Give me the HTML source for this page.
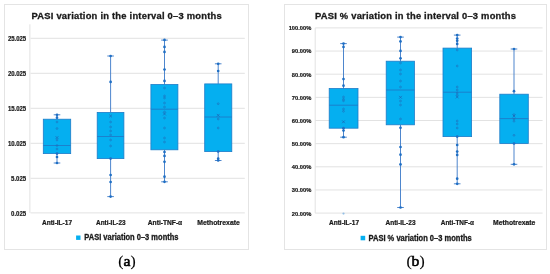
<!DOCTYPE html>
<html><head><meta charset="utf-8"><style>
html,body{margin:0;padding:0;background:#fff;width:550px;height:274px;overflow:hidden;}
svg{display:block;will-change:transform;}
</style></head><body>
<svg width="550" height="274" viewBox="0 0 550 274">
<rect width="550" height="274" fill="#fff"/>
<rect x="4.5" y="4.5" width="244" height="245" fill="none" stroke="#E4E4E4" stroke-width="1"/>
<rect x="284.5" y="4.5" width="262" height="245" fill="none" stroke="#E4E4E4" stroke-width="1"/>
<line x1="30.5" y1="38.3" x2="244.8" y2="38.3" stroke="#E2E2E2" stroke-width="1"/>
<line x1="30.5" y1="73.3" x2="244.8" y2="73.3" stroke="#E2E2E2" stroke-width="1"/>
<line x1="30.5" y1="108.3" x2="244.8" y2="108.3" stroke="#E2E2E2" stroke-width="1"/>
<line x1="30.5" y1="143.3" x2="244.8" y2="143.3" stroke="#E2E2E2" stroke-width="1"/>
<line x1="30.5" y1="178.3" x2="244.8" y2="178.3" stroke="#E2E2E2" stroke-width="1"/>
<line x1="30.5" y1="212.9" x2="244.8" y2="212.9" stroke="#E2E2E2" stroke-width="1"/>
<line x1="29.9" y1="24.3" x2="29.9" y2="212.9" stroke="#E2E2E2" stroke-width="1"/>
<text x="26.2" y="40.949999999999996" font-family="&quot;Liberation Sans&quot;, sans-serif" font-size="6.3" font-weight="bold" fill="#1a1a1a" text-anchor="end" textLength="18.3" lengthAdjust="spacingAndGlyphs" stroke="#1a1a1a" stroke-width="0.2">25.025</text>
<text x="26.2" y="75.95" font-family="&quot;Liberation Sans&quot;, sans-serif" font-size="6.3" font-weight="bold" fill="#1a1a1a" text-anchor="end" textLength="18.3" lengthAdjust="spacingAndGlyphs" stroke="#1a1a1a" stroke-width="0.2">20.025</text>
<text x="26.2" y="110.95" font-family="&quot;Liberation Sans&quot;, sans-serif" font-size="6.3" font-weight="bold" fill="#1a1a1a" text-anchor="end" textLength="18.3" lengthAdjust="spacingAndGlyphs" stroke="#1a1a1a" stroke-width="0.2">15.025</text>
<text x="26.2" y="145.95000000000002" font-family="&quot;Liberation Sans&quot;, sans-serif" font-size="6.3" font-weight="bold" fill="#1a1a1a" text-anchor="end" textLength="18.3" lengthAdjust="spacingAndGlyphs" stroke="#1a1a1a" stroke-width="0.2">10.025</text>
<text x="26.2" y="180.95000000000002" font-family="&quot;Liberation Sans&quot;, sans-serif" font-size="6.3" font-weight="bold" fill="#1a1a1a" text-anchor="end" textLength="15.1" lengthAdjust="spacingAndGlyphs" stroke="#1a1a1a" stroke-width="0.2">5.025</text>
<text x="26.2" y="215.55" font-family="&quot;Liberation Sans&quot;, sans-serif" font-size="6.3" font-weight="bold" fill="#1a1a1a" text-anchor="end" textLength="15.1" lengthAdjust="spacingAndGlyphs" stroke="#1a1a1a" stroke-width="0.2">0.025</text>
<text x="126.6" y="18.5" font-family="&quot;Liberation Sans&quot;, sans-serif" font-size="9.4" font-weight="bold" fill="#1a1a1a" text-anchor="middle" textLength="190.2" lengthAdjust="spacing" stroke="#1a1a1a" stroke-width="0.3">PASI variation in the interval 0–3 months</text>
<line x1="57" y1="114.8" x2="57" y2="119.2" stroke="#4580CA" stroke-width="0.95"/>
<line x1="57" y1="153.6" x2="57" y2="163" stroke="#4580CA" stroke-width="0.95"/>
<line x1="53.7" y1="114.8" x2="60.3" y2="114.8" stroke="#4580CA" stroke-width="0.95"/>
<line x1="53.7" y1="163" x2="60.3" y2="163" stroke="#4580CA" stroke-width="0.95"/>
<rect x="43.3" y="119.2" width="27.400000000000006" height="34.39999999999999" fill="#05AFF0" stroke="#1E7CC8" stroke-width="0.8"/>
<line x1="43.3" y1="145.5" x2="70.7" y2="145.5" stroke="#1E7CC8" stroke-width="0.9"/>
<circle cx="57" cy="114.8" r="1.35" fill="#1F6FC4"/>
<circle cx="57" cy="117.7" r="1.35" fill="#1F6FC4"/>
<circle cx="57" cy="122" r="0.9" fill="none" stroke="#2366B4" stroke-width="0.55"/>
<circle cx="57" cy="128.5" r="0.9" fill="none" stroke="#2366B4" stroke-width="0.55"/>
<circle cx="57" cy="140" r="0.9" fill="none" stroke="#2366B4" stroke-width="0.55"/>
<circle cx="57" cy="145.5" r="0.9" fill="none" stroke="#2366B4" stroke-width="0.55"/>
<circle cx="57" cy="149" r="0.9" fill="none" stroke="#2366B4" stroke-width="0.55"/>
<circle cx="57" cy="153.6" r="1.35" fill="#1F6FC4"/>
<circle cx="57" cy="157" r="1.35" fill="#1F6FC4"/>
<circle cx="57" cy="163" r="1.35" fill="#1F6FC4"/>
<path d="M55.6 136.2L58.4 139.0M55.6 139.0L58.4 136.2" stroke="#1F5FAE" stroke-width="0.65"/>
<line x1="110.6" y1="56" x2="110.6" y2="112.4" stroke="#4580CA" stroke-width="0.95"/>
<line x1="110.6" y1="158.6" x2="110.6" y2="196.6" stroke="#4580CA" stroke-width="0.95"/>
<line x1="107.3" y1="56" x2="113.89999999999999" y2="56" stroke="#4580CA" stroke-width="0.95"/>
<line x1="107.3" y1="196.6" x2="113.89999999999999" y2="196.6" stroke="#4580CA" stroke-width="0.95"/>
<rect x="97.2" y="112.4" width="26.700000000000003" height="46.19999999999999" fill="#05AFF0" stroke="#1E7CC8" stroke-width="0.8"/>
<line x1="97.2" y1="136.5" x2="123.9" y2="136.5" stroke="#1E7CC8" stroke-width="0.9"/>
<circle cx="110.6" cy="56" r="1.35" fill="#1F6FC4"/>
<circle cx="110.6" cy="81.9" r="1.35" fill="#1F6FC4"/>
<circle cx="110.6" cy="122" r="0.9" fill="none" stroke="#2366B4" stroke-width="0.55"/>
<circle cx="110.6" cy="127" r="0.9" fill="none" stroke="#2366B4" stroke-width="0.55"/>
<circle cx="110.6" cy="131" r="0.9" fill="none" stroke="#2366B4" stroke-width="0.55"/>
<circle cx="110.6" cy="135" r="0.9" fill="none" stroke="#2366B4" stroke-width="0.55"/>
<circle cx="110.6" cy="140" r="0.9" fill="none" stroke="#2366B4" stroke-width="0.55"/>
<circle cx="110.6" cy="146" r="0.9" fill="none" stroke="#2366B4" stroke-width="0.55"/>
<circle cx="110.6" cy="158.6" r="1.35" fill="#1F6FC4"/>
<circle cx="110.6" cy="175" r="1.35" fill="#1F6FC4"/>
<circle cx="110.6" cy="182" r="1.35" fill="#1F6FC4"/>
<circle cx="110.6" cy="196.6" r="1.35" fill="#1F6FC4"/>
<path d="M109.19999999999999 114.6L112.0 117.4M109.19999999999999 117.4L112.0 114.6" stroke="#1F5FAE" stroke-width="0.65"/>
<line x1="164.5" y1="40.1" x2="164.5" y2="84.5" stroke="#4580CA" stroke-width="0.95"/>
<line x1="164.5" y1="149.8" x2="164.5" y2="181.8" stroke="#4580CA" stroke-width="0.95"/>
<line x1="161.2" y1="40.1" x2="167.8" y2="40.1" stroke="#4580CA" stroke-width="0.95"/>
<line x1="161.2" y1="181.8" x2="167.8" y2="181.8" stroke="#4580CA" stroke-width="0.95"/>
<rect x="150.9" y="84.5" width="27.0" height="65.30000000000001" fill="#05AFF0" stroke="#1E7CC8" stroke-width="0.8"/>
<line x1="150.9" y1="109.2" x2="177.9" y2="109.2" stroke="#1E7CC8" stroke-width="0.9"/>
<circle cx="164.5" cy="39.9" r="1.35" fill="#1F6FC4"/>
<circle cx="164.5" cy="46.9" r="1.35" fill="#1F6FC4"/>
<circle cx="164.5" cy="51.9" r="1.35" fill="#1F6FC4"/>
<circle cx="164.5" cy="69.5" r="1.35" fill="#1F6FC4"/>
<circle cx="164.5" cy="80.9" r="1.35" fill="#1F6FC4"/>
<circle cx="164.5" cy="88" r="0.9" fill="none" stroke="#2366B4" stroke-width="0.55"/>
<circle cx="164.5" cy="96" r="0.9" fill="none" stroke="#2366B4" stroke-width="0.55"/>
<circle cx="164.5" cy="98" r="0.9" fill="none" stroke="#2366B4" stroke-width="0.55"/>
<circle cx="164.5" cy="103" r="0.9" fill="none" stroke="#2366B4" stroke-width="0.55"/>
<circle cx="164.5" cy="107" r="0.9" fill="none" stroke="#2366B4" stroke-width="0.55"/>
<circle cx="164.5" cy="112" r="0.9" fill="none" stroke="#2366B4" stroke-width="0.55"/>
<circle cx="164.5" cy="118" r="0.9" fill="none" stroke="#2366B4" stroke-width="0.55"/>
<circle cx="164.5" cy="128" r="0.9" fill="none" stroke="#2366B4" stroke-width="0.55"/>
<circle cx="164.5" cy="138" r="0.9" fill="none" stroke="#2366B4" stroke-width="0.55"/>
<circle cx="164.5" cy="142" r="0.9" fill="none" stroke="#2366B4" stroke-width="0.55"/>
<circle cx="164.5" cy="152" r="1.35" fill="#1F6FC4"/>
<circle cx="164.5" cy="155.9" r="1.35" fill="#1F6FC4"/>
<circle cx="164.5" cy="161.8" r="1.35" fill="#1F6FC4"/>
<circle cx="164.5" cy="176.7" r="1.35" fill="#1F6FC4"/>
<circle cx="164.5" cy="181.8" r="1.35" fill="#1F6FC4"/>
<path d="M163.1 112.6L165.9 115.4M163.1 115.4L165.9 112.6" stroke="#1F5FAE" stroke-width="0.65"/>
<line x1="218.2" y1="63.8" x2="218.2" y2="83.9" stroke="#4580CA" stroke-width="0.95"/>
<line x1="218.2" y1="151.6" x2="218.2" y2="160.5" stroke="#4580CA" stroke-width="0.95"/>
<line x1="214.89999999999998" y1="63.8" x2="221.5" y2="63.8" stroke="#4580CA" stroke-width="0.95"/>
<line x1="214.89999999999998" y1="160.5" x2="221.5" y2="160.5" stroke="#4580CA" stroke-width="0.95"/>
<rect x="204.7" y="83.9" width="27.100000000000023" height="67.69999999999999" fill="#05AFF0" stroke="#1E7CC8" stroke-width="0.8"/>
<line x1="204.7" y1="117" x2="231.8" y2="117" stroke="#1E7CC8" stroke-width="0.9"/>
<circle cx="218.2" cy="63.8" r="1.35" fill="#1F6FC4"/>
<circle cx="218.2" cy="71" r="1.35" fill="#1F6FC4"/>
<circle cx="218.2" cy="103.7" r="0.9" fill="none" stroke="#2366B4" stroke-width="0.55"/>
<circle cx="218.2" cy="119" r="0.9" fill="none" stroke="#2366B4" stroke-width="0.55"/>
<circle cx="218.2" cy="128" r="0.9" fill="none" stroke="#2366B4" stroke-width="0.55"/>
<circle cx="218.2" cy="151.5" r="1.35" fill="#1F6FC4"/>
<circle cx="218.2" cy="158.7" r="1.35" fill="#1F6FC4"/>
<circle cx="218.2" cy="160.5" r="1.35" fill="#1F6FC4"/>
<path d="M216.79999999999998 113.89999999999999L219.6 116.7M216.79999999999998 116.7L219.6 113.89999999999999" stroke="#1F5FAE" stroke-width="0.65"/>
<text x="57" y="224.6" font-family="&quot;Liberation Sans&quot;, sans-serif" font-size="6.6" font-weight="bold" fill="#1a1a1a" text-anchor="middle" textLength="30" lengthAdjust="spacingAndGlyphs" stroke="#1a1a1a" stroke-width="0.22">Anti-IL-17</text>
<text x="110.8" y="224.6" font-family="&quot;Liberation Sans&quot;, sans-serif" font-size="6.6" font-weight="bold" fill="#1a1a1a" text-anchor="middle" textLength="29.6" lengthAdjust="spacingAndGlyphs" stroke="#1a1a1a" stroke-width="0.22">Anti-IL-23</text>
<text x="165" y="224.6" font-family="&quot;Liberation Sans&quot;, sans-serif" font-size="6.6" font-weight="bold" fill="#1a1a1a" text-anchor="middle" textLength="34.4" lengthAdjust="spacingAndGlyphs" stroke="#1a1a1a" stroke-width="0.22">Anti-TNF-α</text>
<text x="218.5" y="224.6" font-family="&quot;Liberation Sans&quot;, sans-serif" font-size="6.6" font-weight="bold" fill="#1a1a1a" text-anchor="middle" textLength="42.6" lengthAdjust="spacingAndGlyphs" stroke="#1a1a1a" stroke-width="0.22">Methotrexate</text>
<rect x="76.1" y="235.5" width="4.4" height="4.4" fill="#05AFF0"/>
<text x="84.3" y="240.3" font-family="&quot;Liberation Sans&quot;, sans-serif" font-size="8.4" font-weight="bold" fill="#1a1a1a" text-anchor="start" textLength="94.2" lengthAdjust="spacingAndGlyphs" stroke="#1a1a1a" stroke-width="0.3">PASI variation 0–3 months</text>
<line x1="315.2" y1="27.9" x2="542.6" y2="27.9" stroke="#E2E2E2" stroke-width="1"/>
<line x1="315.2" y1="51.05" x2="542.6" y2="51.05" stroke="#E2E2E2" stroke-width="1"/>
<line x1="315.2" y1="74.19999999999999" x2="542.6" y2="74.19999999999999" stroke="#E2E2E2" stroke-width="1"/>
<line x1="315.2" y1="97.35" x2="542.6" y2="97.35" stroke="#E2E2E2" stroke-width="1"/>
<line x1="315.2" y1="120.5" x2="542.6" y2="120.5" stroke="#E2E2E2" stroke-width="1"/>
<line x1="315.2" y1="143.65" x2="542.6" y2="143.65" stroke="#E2E2E2" stroke-width="1"/>
<line x1="315.2" y1="166.79999999999998" x2="542.6" y2="166.79999999999998" stroke="#E2E2E2" stroke-width="1"/>
<line x1="315.2" y1="189.95" x2="542.6" y2="189.95" stroke="#E2E2E2" stroke-width="1"/>
<line x1="315.2" y1="213.1" x2="542.6" y2="213.1" stroke="#E2E2E2" stroke-width="1"/>
<line x1="315.2" y1="27.9" x2="315.2" y2="213.1" stroke="#E2E2E2" stroke-width="1"/>
<text x="311.3" y="30.299999999999997" font-family="&quot;Liberation Sans&quot;, sans-serif" font-size="6.2" font-weight="bold" fill="#1a1a1a" text-anchor="end" textLength="22.6" lengthAdjust="spacingAndGlyphs" stroke="#1a1a1a" stroke-width="0.2">100.00%</text>
<text x="311.3" y="53.449999999999996" font-family="&quot;Liberation Sans&quot;, sans-serif" font-size="6.2" font-weight="bold" fill="#1a1a1a" text-anchor="end" textLength="19.5" lengthAdjust="spacingAndGlyphs" stroke="#1a1a1a" stroke-width="0.2">90.00%</text>
<text x="311.3" y="76.6" font-family="&quot;Liberation Sans&quot;, sans-serif" font-size="6.2" font-weight="bold" fill="#1a1a1a" text-anchor="end" textLength="19.5" lengthAdjust="spacingAndGlyphs" stroke="#1a1a1a" stroke-width="0.2">80.00%</text>
<text x="311.3" y="99.75" font-family="&quot;Liberation Sans&quot;, sans-serif" font-size="6.2" font-weight="bold" fill="#1a1a1a" text-anchor="end" textLength="19.5" lengthAdjust="spacingAndGlyphs" stroke="#1a1a1a" stroke-width="0.2">70.00%</text>
<text x="311.3" y="122.9" font-family="&quot;Liberation Sans&quot;, sans-serif" font-size="6.2" font-weight="bold" fill="#1a1a1a" text-anchor="end" textLength="19.5" lengthAdjust="spacingAndGlyphs" stroke="#1a1a1a" stroke-width="0.2">60.00%</text>
<text x="311.3" y="146.05" font-family="&quot;Liberation Sans&quot;, sans-serif" font-size="6.2" font-weight="bold" fill="#1a1a1a" text-anchor="end" textLength="19.5" lengthAdjust="spacingAndGlyphs" stroke="#1a1a1a" stroke-width="0.2">50.00%</text>
<text x="311.3" y="169.2" font-family="&quot;Liberation Sans&quot;, sans-serif" font-size="6.2" font-weight="bold" fill="#1a1a1a" text-anchor="end" textLength="19.5" lengthAdjust="spacingAndGlyphs" stroke="#1a1a1a" stroke-width="0.2">40.00%</text>
<text x="311.3" y="192.35" font-family="&quot;Liberation Sans&quot;, sans-serif" font-size="6.2" font-weight="bold" fill="#1a1a1a" text-anchor="end" textLength="19.5" lengthAdjust="spacingAndGlyphs" stroke="#1a1a1a" stroke-width="0.2">30.00%</text>
<text x="311.3" y="215.5" font-family="&quot;Liberation Sans&quot;, sans-serif" font-size="6.2" font-weight="bold" fill="#1a1a1a" text-anchor="end" textLength="19.5" lengthAdjust="spacingAndGlyphs" stroke="#1a1a1a" stroke-width="0.2">20.00%</text>
<text x="415.5" y="18.5" font-family="&quot;Liberation Sans&quot;, sans-serif" font-size="9.4" font-weight="bold" fill="#1a1a1a" text-anchor="middle" textLength="201" lengthAdjust="spacing" stroke="#1a1a1a" stroke-width="0.3">PASI % variation in the interval 0–3 months</text>
<line x1="343.5" y1="43.6" x2="343.5" y2="88.5" stroke="#4580CA" stroke-width="0.95"/>
<line x1="343.5" y1="128.2" x2="343.5" y2="137.2" stroke="#4580CA" stroke-width="0.95"/>
<line x1="340.2" y1="43.6" x2="346.8" y2="43.6" stroke="#4580CA" stroke-width="0.95"/>
<line x1="340.2" y1="137.2" x2="346.8" y2="137.2" stroke="#4580CA" stroke-width="0.95"/>
<rect x="329.2" y="88.5" width="28.80000000000001" height="39.69999999999999" fill="#05AFF0" stroke="#1E7CC8" stroke-width="0.8"/>
<line x1="329.2" y1="105.2" x2="358" y2="105.2" stroke="#1E7CC8" stroke-width="0.9"/>
<circle cx="343.5" cy="43.6" r="1.35" fill="#1F6FC4"/>
<circle cx="343.5" cy="46.9" r="1.35" fill="#1F6FC4"/>
<circle cx="343.5" cy="79.1" r="1.35" fill="#1F6FC4"/>
<circle cx="343.5" cy="85.7" r="1.35" fill="#1F6FC4"/>
<circle cx="343.5" cy="97" r="0.9" fill="none" stroke="#2366B4" stroke-width="0.55"/>
<circle cx="343.5" cy="99.3" r="0.9" fill="none" stroke="#2366B4" stroke-width="0.55"/>
<circle cx="343.5" cy="100.8" r="0.9" fill="none" stroke="#2366B4" stroke-width="0.55"/>
<circle cx="343.5" cy="109" r="0.9" fill="none" stroke="#2366B4" stroke-width="0.55"/>
<circle cx="343.5" cy="111.3" r="0.9" fill="none" stroke="#2366B4" stroke-width="0.55"/>
<circle cx="343.5" cy="128.2" r="1.35" fill="#1F6FC4"/>
<circle cx="343.5" cy="130.6" r="1.35" fill="#1F6FC4"/>
<circle cx="343.5" cy="137.2" r="1.35" fill="#1F6FC4"/>
<path d="M342.1 120.39999999999999L344.9 123.2M342.1 123.2L344.9 120.39999999999999" stroke="#1F5FAE" stroke-width="0.65"/>
<circle cx="343.5" cy="213.6" r="1.1" fill="#5AA0E0" opacity="0.6"/>
<line x1="400.5" y1="37.1" x2="400.5" y2="61.2" stroke="#4580CA" stroke-width="0.95"/>
<line x1="400.5" y1="124.8" x2="400.5" y2="207.5" stroke="#4580CA" stroke-width="0.95"/>
<line x1="397.2" y1="37.1" x2="403.8" y2="37.1" stroke="#4580CA" stroke-width="0.95"/>
<line x1="397.2" y1="207.5" x2="403.8" y2="207.5" stroke="#4580CA" stroke-width="0.95"/>
<rect x="386.2" y="61.2" width="28.19999999999999" height="63.599999999999994" fill="#05AFF0" stroke="#1E7CC8" stroke-width="0.8"/>
<line x1="386.2" y1="90" x2="414.4" y2="90" stroke="#1E7CC8" stroke-width="0.9"/>
<circle cx="400.5" cy="37.1" r="1.35" fill="#1F6FC4"/>
<circle cx="400.5" cy="41.4" r="1.35" fill="#1F6FC4"/>
<circle cx="400.5" cy="50.9" r="1.35" fill="#1F6FC4"/>
<circle cx="400.5" cy="58.3" r="1.35" fill="#1F6FC4"/>
<circle cx="400.5" cy="63" r="0.9" fill="none" stroke="#2366B4" stroke-width="0.55"/>
<circle cx="400.5" cy="70" r="0.9" fill="none" stroke="#2366B4" stroke-width="0.55"/>
<circle cx="400.5" cy="74" r="0.9" fill="none" stroke="#2366B4" stroke-width="0.55"/>
<circle cx="400.5" cy="81" r="0.9" fill="none" stroke="#2366B4" stroke-width="0.55"/>
<circle cx="400.5" cy="87" r="0.9" fill="none" stroke="#2366B4" stroke-width="0.55"/>
<circle cx="400.5" cy="101" r="0.9" fill="none" stroke="#2366B4" stroke-width="0.55"/>
<circle cx="400.5" cy="105" r="0.9" fill="none" stroke="#2366B4" stroke-width="0.55"/>
<circle cx="400.5" cy="119" r="0.9" fill="none" stroke="#2366B4" stroke-width="0.55"/>
<circle cx="400.5" cy="127.8" r="1.35" fill="#1F6FC4"/>
<circle cx="400.5" cy="147" r="1.35" fill="#1F6FC4"/>
<circle cx="400.5" cy="154.7" r="1.35" fill="#1F6FC4"/>
<circle cx="400.5" cy="164.4" r="1.35" fill="#1F6FC4"/>
<circle cx="400.5" cy="207.5" r="1.35" fill="#1F6FC4"/>
<path d="M399.1 95.89999999999999L401.9 98.7M399.1 98.7L401.9 95.89999999999999" stroke="#1F5FAE" stroke-width="0.65"/>
<line x1="457.2" y1="35.1" x2="457.2" y2="48.1" stroke="#4580CA" stroke-width="0.95"/>
<line x1="457.2" y1="136.6" x2="457.2" y2="183.8" stroke="#4580CA" stroke-width="0.95"/>
<line x1="453.9" y1="35.1" x2="460.5" y2="35.1" stroke="#4580CA" stroke-width="0.95"/>
<line x1="453.9" y1="183.8" x2="460.5" y2="183.8" stroke="#4580CA" stroke-width="0.95"/>
<rect x="443" y="48.1" width="28.600000000000023" height="88.5" fill="#05AFF0" stroke="#1E7CC8" stroke-width="0.8"/>
<line x1="443" y1="92.2" x2="471.6" y2="92.2" stroke="#1E7CC8" stroke-width="0.9"/>
<circle cx="457.2" cy="35.1" r="1.35" fill="#1F6FC4"/>
<circle cx="457.2" cy="38.6" r="1.35" fill="#1F6FC4"/>
<circle cx="457.2" cy="40.8" r="1.35" fill="#1F6FC4"/>
<circle cx="457.2" cy="43.9" r="1.35" fill="#1F6FC4"/>
<circle cx="457.2" cy="50" r="0.9" fill="none" stroke="#2366B4" stroke-width="0.55"/>
<circle cx="457.2" cy="66" r="0.9" fill="none" stroke="#2366B4" stroke-width="0.55"/>
<circle cx="457.2" cy="87" r="0.9" fill="none" stroke="#2366B4" stroke-width="0.55"/>
<circle cx="457.2" cy="90" r="0.9" fill="none" stroke="#2366B4" stroke-width="0.55"/>
<circle cx="457.2" cy="93" r="0.9" fill="none" stroke="#2366B4" stroke-width="0.55"/>
<circle cx="457.2" cy="95" r="0.9" fill="none" stroke="#2366B4" stroke-width="0.55"/>
<circle cx="457.2" cy="121" r="0.9" fill="none" stroke="#2366B4" stroke-width="0.55"/>
<circle cx="457.2" cy="124" r="0.9" fill="none" stroke="#2366B4" stroke-width="0.55"/>
<circle cx="457.2" cy="128" r="0.9" fill="none" stroke="#2366B4" stroke-width="0.55"/>
<circle cx="457.2" cy="136.6" r="1.35" fill="#1F6FC4"/>
<circle cx="457.2" cy="145" r="1.35" fill="#1F6FC4"/>
<circle cx="457.2" cy="151.6" r="1.35" fill="#1F6FC4"/>
<circle cx="457.2" cy="154.9" r="1.35" fill="#1F6FC4"/>
<circle cx="457.2" cy="178.7" r="1.35" fill="#1F6FC4"/>
<circle cx="457.2" cy="183.8" r="1.35" fill="#1F6FC4"/>
<path d="M455.8 95.6L458.59999999999997 98.4M455.8 98.4L458.59999999999997 95.6" stroke="#1F5FAE" stroke-width="0.65"/>
<line x1="514" y1="49" x2="514" y2="94.2" stroke="#4580CA" stroke-width="0.95"/>
<line x1="514" y1="143.5" x2="514" y2="164.3" stroke="#4580CA" stroke-width="0.95"/>
<line x1="510.7" y1="49" x2="517.3" y2="49" stroke="#4580CA" stroke-width="0.95"/>
<line x1="510.7" y1="164.3" x2="517.3" y2="164.3" stroke="#4580CA" stroke-width="0.95"/>
<rect x="499.8" y="94.2" width="28.499999999999943" height="49.3" fill="#05AFF0" stroke="#1E7CC8" stroke-width="0.8"/>
<line x1="499.8" y1="118.6" x2="528.3" y2="118.6" stroke="#1E7CC8" stroke-width="0.9"/>
<circle cx="514" cy="49" r="1.35" fill="#1F6FC4"/>
<circle cx="514" cy="91.2" r="1.35" fill="#1F6FC4"/>
<circle cx="514" cy="114.6" r="0.9" fill="none" stroke="#2366B4" stroke-width="0.55"/>
<circle cx="514" cy="118.9" r="0.9" fill="none" stroke="#2366B4" stroke-width="0.55"/>
<circle cx="514" cy="121.2" r="0.9" fill="none" stroke="#2366B4" stroke-width="0.55"/>
<circle cx="514" cy="135.3" r="0.9" fill="none" stroke="#2366B4" stroke-width="0.55"/>
<circle cx="514" cy="143.5" r="1.35" fill="#1F6FC4"/>
<circle cx="514" cy="164.3" r="1.35" fill="#1F6FC4"/>
<path d="M512.6 114.6L515.4 117.4M512.6 117.4L515.4 114.6" stroke="#1F5FAE" stroke-width="0.65"/>
<text x="344" y="224.6" font-family="&quot;Liberation Sans&quot;, sans-serif" font-size="6.6" font-weight="bold" fill="#1a1a1a" text-anchor="middle" textLength="30" lengthAdjust="spacingAndGlyphs" stroke="#1a1a1a" stroke-width="0.22">Anti-IL-17</text>
<text x="400.5" y="224.6" font-family="&quot;Liberation Sans&quot;, sans-serif" font-size="6.6" font-weight="bold" fill="#1a1a1a" text-anchor="middle" textLength="30" lengthAdjust="spacingAndGlyphs" stroke="#1a1a1a" stroke-width="0.22">Anti-IL-23</text>
<text x="457.4" y="224.6" font-family="&quot;Liberation Sans&quot;, sans-serif" font-size="6.6" font-weight="bold" fill="#1a1a1a" text-anchor="middle" textLength="33.3" lengthAdjust="spacingAndGlyphs" stroke="#1a1a1a" stroke-width="0.22">Anti-TNF-α</text>
<text x="514.2" y="224.6" font-family="&quot;Liberation Sans&quot;, sans-serif" font-size="6.6" font-weight="bold" fill="#1a1a1a" text-anchor="middle" textLength="42.4" lengthAdjust="spacingAndGlyphs" stroke="#1a1a1a" stroke-width="0.22">Methotrexate</text>
<rect x="360.6" y="235.8" width="4.6" height="4.5" fill="#05AFF0"/>
<text x="368.5" y="240.6" font-family="&quot;Liberation Sans&quot;, sans-serif" font-size="8.4" font-weight="bold" fill="#1a1a1a" text-anchor="start" textLength="103.2" lengthAdjust="spacingAndGlyphs" stroke="#1a1a1a" stroke-width="0.3">PASI % variation 0–3 months</text>
<text x="127" y="265.7" font-family="&quot;Liberation Serif&quot;, serif" font-size="15.6" font-weight="normal" fill="#000" text-anchor="middle" stroke="#000" stroke-width="0.15">(<tspan stroke-width="0.6">a</tspan>)</text>
<text x="415.5" y="265.7" font-family="&quot;Liberation Serif&quot;, serif" font-size="15.6" font-weight="normal" fill="#000" text-anchor="middle" stroke="#000" stroke-width="0.15">(<tspan stroke-width="0.6">b</tspan>)</text>
</svg>
</body></html>
